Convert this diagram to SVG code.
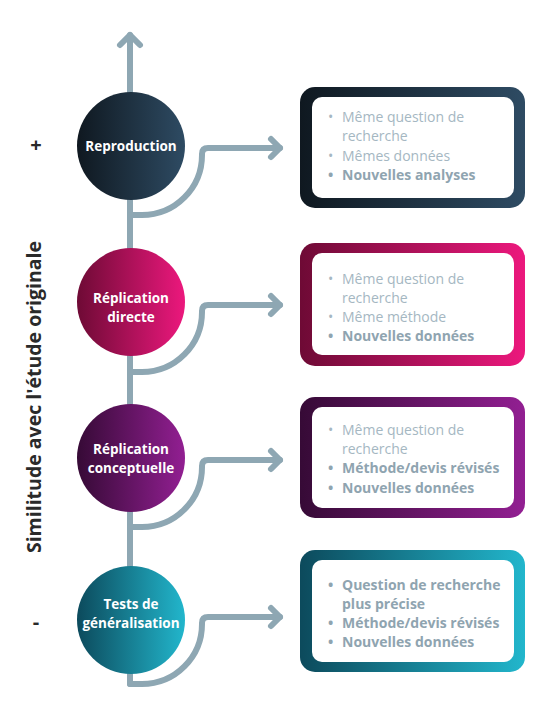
<svg xmlns="http://www.w3.org/2000/svg" width="540" height="720" viewBox="0 0 540 720">
<defs>
<linearGradient id="g1" x1="0" y1="0" x2="1" y2="0"><stop offset="0" stop-color="#0f1820"/><stop offset="1" stop-color="#2e4b63"/></linearGradient>
<linearGradient id="g2" x1="0" y1="0" x2="1" y2="0"><stop offset="0" stop-color="#6e0a35"/><stop offset="1" stop-color="#ec187d"/></linearGradient>
<linearGradient id="g3" x1="0" y1="0" x2="1" y2="0"><stop offset="0" stop-color="#360a36"/><stop offset="1" stop-color="#921f92"/></linearGradient>
<linearGradient id="g4" x1="0" y1="0" x2="1" y2="0"><stop offset="0" stop-color="#0c4a5c"/><stop offset="1" stop-color="#22b6cc"/></linearGradient>
</defs>
<style>
.con{fill:none;stroke:#8ea7b3;stroke-width:6;stroke-linecap:round;stroke-linejoin:round}
.lab{font-family:"Open Sans","Liberation Sans",sans-serif;font-weight:700;font-size:13.5px;fill:#ffffff;text-anchor:middle}
.it{font-family:"Open Sans","Liberation Sans",sans-serif;font-size:14px;fill:#a5b7c2}
.b{font-weight:700;fill:#8fa4b0}
.inner{fill:#ffffff}
.side{font-family:"Open Sans","Liberation Sans",sans-serif;font-weight:700;fill:#2a2a2a}
</style>
<rect width="540" height="720" fill="#ffffff"/>
<g id="axis">
<text class="side" x="36" y="397" font-size="19.5" text-anchor="middle" dominant-baseline="middle" transform="rotate(-90 36 397)">Similitude avec l'étude originale</text>
<text class="side" x="36" y="152" font-size="20" text-anchor="middle">+</text>
<text class="side" x="36" y="629" font-size="20" text-anchor="middle">-</text>
</g>
<g id="connectors">
<path class="con" d="M130,684 V35"/>
<polyline class="con" points="120,45 130,35 140,45"/>
<path class="con" d="M130,215 H142 A60,60 0 0 0 202,155 V154 Q202,148 208,148 H280"/>
<polyline class="con" points="271,139 280,148 271,157"/>
<path class="con" d="M130,372 H142 A60,60 0 0 0 202,312 V311 Q202,305 208,305 H280"/>
<polyline class="con" points="271,296 280,305 271,314"/>
<path class="con" d="M130,527 H142 A60,60 0 0 0 202,467 V466 Q202,460 208,460 H280"/>
<polyline class="con" points="271,451 280,460 271,469"/>
<path class="con" d="M130,684 H142 A60,60 0 0 0 202,624 V623 Q202,617 208,617 H280"/>
<polyline class="con" points="271,608 280,617 271,626"/>
</g>
<g id="node1">
<circle cx="131" cy="146" r="54" fill="url(#g1)"/>
<text class="lab" x="131" y="151">Reproduction</text>
</g>
<g id="node2">
<circle cx="131" cy="302" r="54" fill="url(#g2)"/>
<text class="lab" x="131" y="303">Réplication</text>
<text class="lab" x="131" y="322">directe</text>
</g>
<g id="node3">
<circle cx="131" cy="458" r="54" fill="url(#g3)"/>
<text class="lab" x="131" y="454">Réplication</text>
<text class="lab" x="131" y="473">conceptuelle</text>
</g>
<g id="node4">
<circle cx="131" cy="620" r="54" fill="url(#g4)"/>
<text class="lab" x="131" y="609">Tests de</text>
<text class="lab" x="131" y="628">généralisation</text>
</g>
<g id="box1">
<rect x="300" y="87" width="225" height="121" rx="15" fill="url(#g1)"/>
<rect class="inner" x="312" y="97" width="202" height="101" rx="10"/>
<text class="it" x="328" y="122">•</text><text class="it" x="342" y="122">Même question de</text>
<text class="it" x="342" y="141">recherche</text>
<text class="it" x="328" y="161">•</text><text class="it" x="342" y="161">Mêmes données</text>
<text class="it b" x="328" y="180">•</text><text class="it b" x="342" y="180">Nouvelles analyses</text>
</g>
<g id="box2">
<rect x="300" y="243" width="225" height="123" rx="15" fill="url(#g2)"/>
<rect class="inner" x="312" y="253" width="202" height="102" rx="10"/>
<text class="it" x="328" y="284">•</text><text class="it" x="342" y="284">Même question de</text>
<text class="it" x="342" y="303">recherche</text>
<text class="it" x="328" y="322">•</text><text class="it" x="342" y="322">Même méthode</text>
<text class="it b" x="328" y="341">•</text><text class="it b" x="342" y="341">Nouvelles données</text>
</g>
<g id="box3">
<rect x="300" y="397" width="225" height="121" rx="15" fill="url(#g3)"/>
<rect class="inner" x="312" y="407" width="202" height="101" rx="10"/>
<text class="it" x="328" y="435">•</text><text class="it" x="342" y="435">Même question de</text>
<text class="it" x="342" y="454">recherche</text>
<text class="it b" x="328" y="473">•</text><text class="it b" x="342" y="473">Méthode/devis révisés</text>
<text class="it b" x="328" y="493">•</text><text class="it b" x="342" y="493">Nouvelles données</text>
</g>
<g id="box4">
<rect x="300" y="550" width="225" height="122" rx="15" fill="url(#g4)"/>
<rect class="inner" x="312" y="560" width="202" height="102" rx="10"/>
<text class="it b" x="328" y="590">•</text><text class="it b" x="342" y="590">Question de recherche</text>
<text class="it b" x="342" y="609">plus précise</text>
<text class="it b" x="328" y="628">•</text><text class="it b" x="342" y="628">Méthode/devis révisés</text>
<text class="it b" x="328" y="647">•</text><text class="it b" x="342" y="647">Nouvelles données</text>
</g>
</svg>
